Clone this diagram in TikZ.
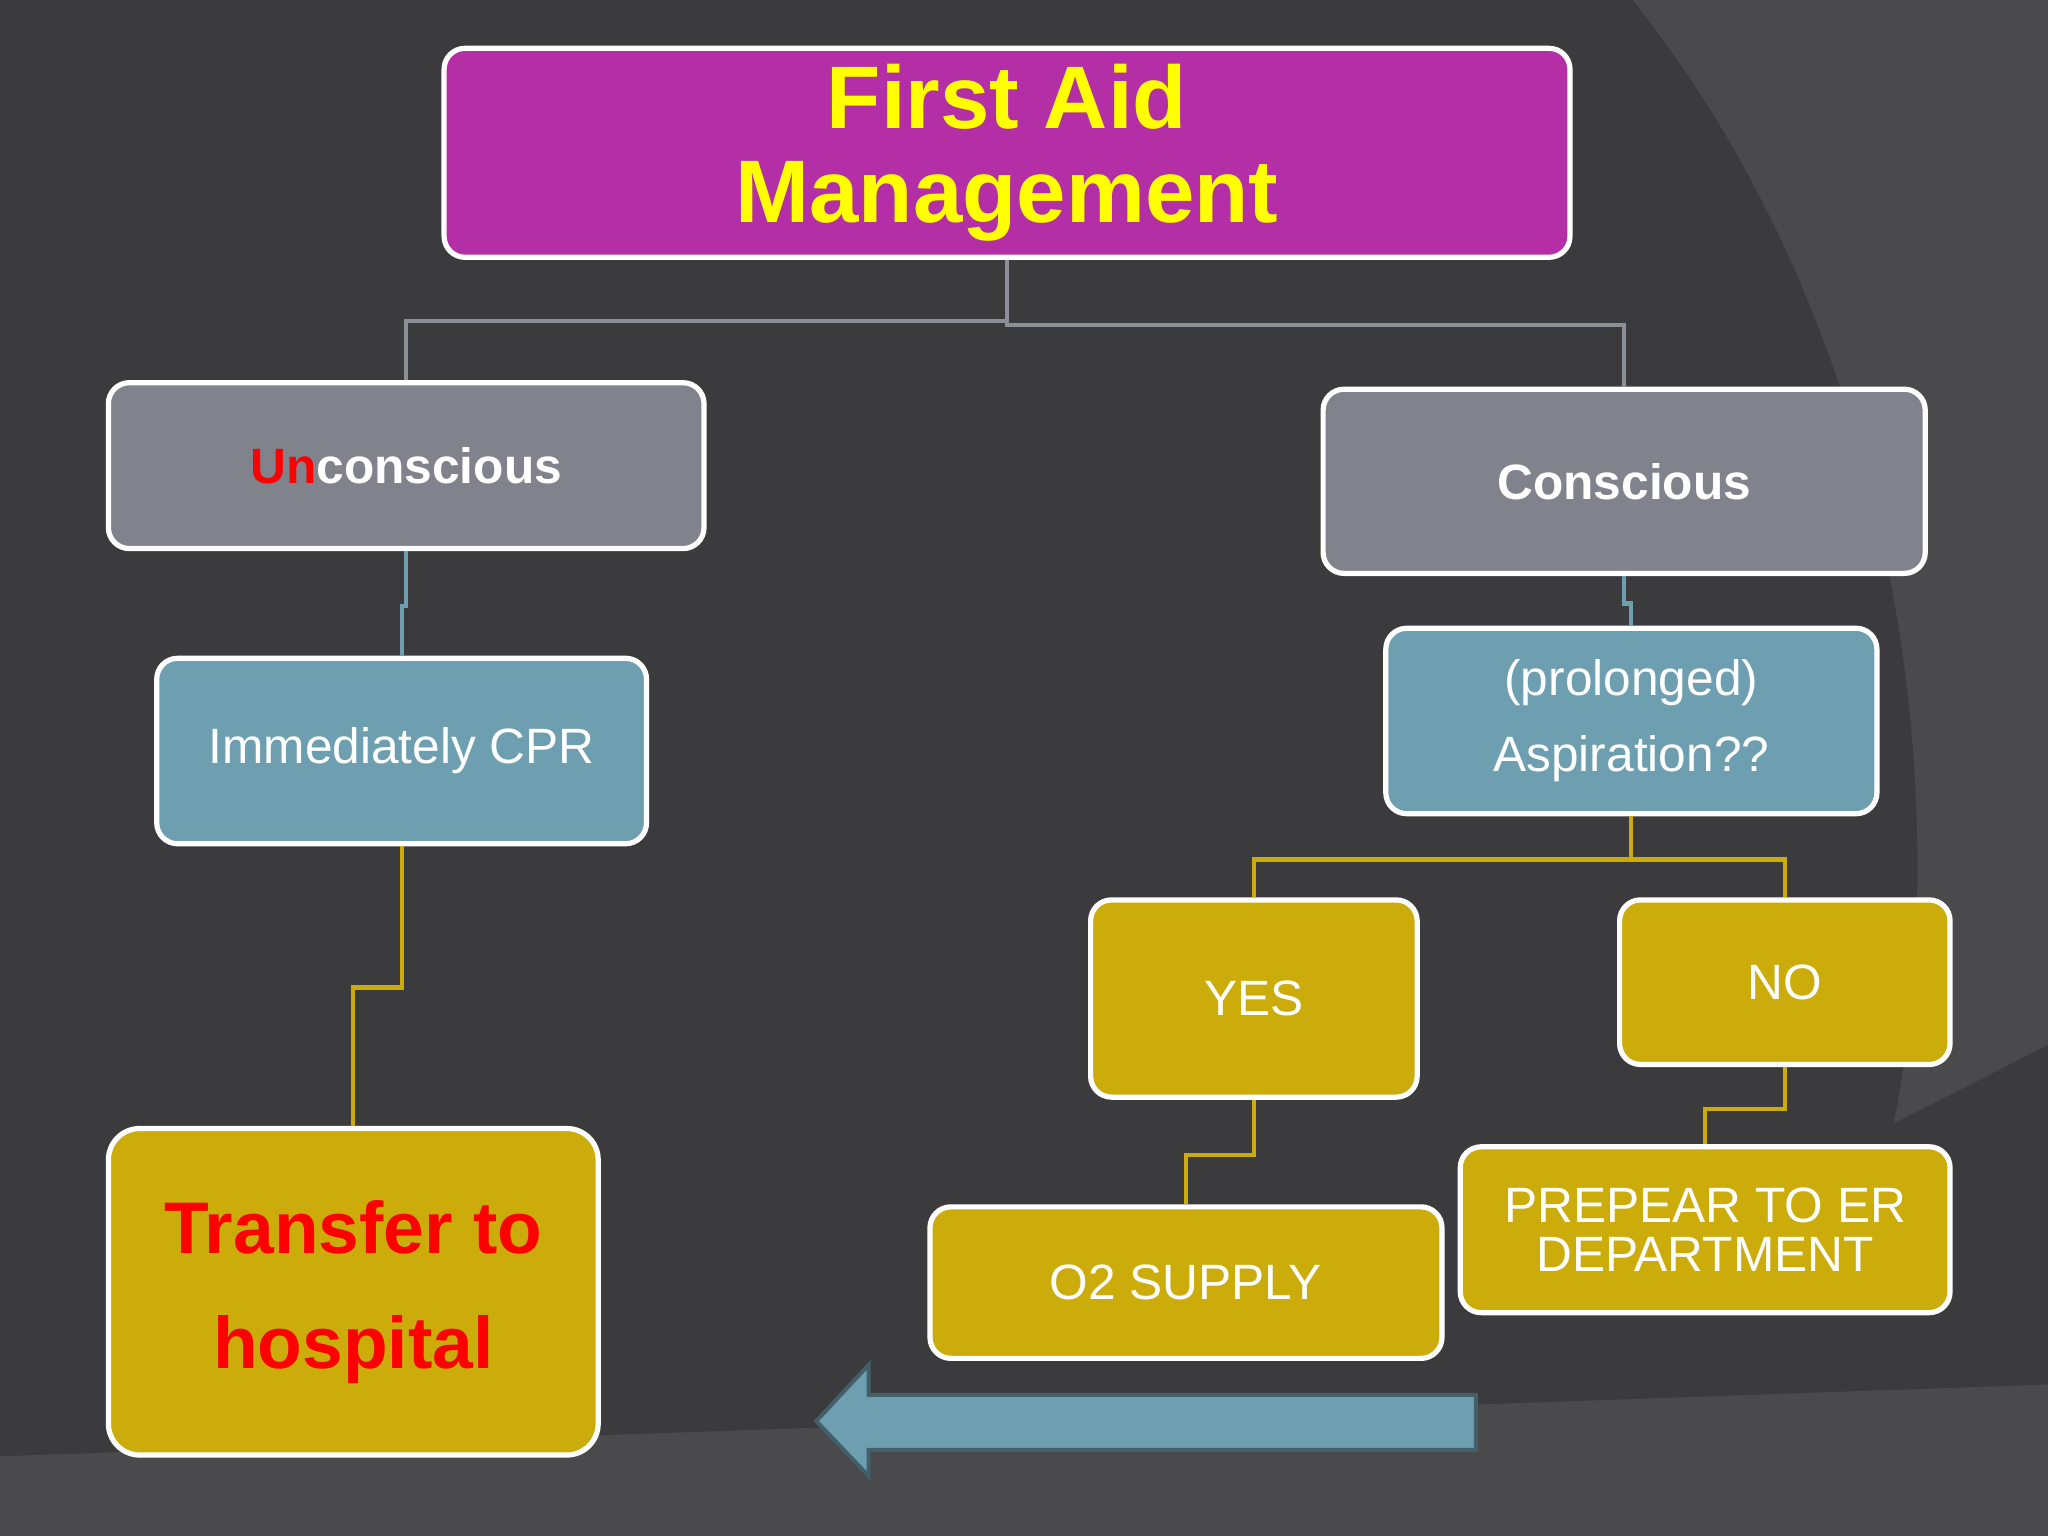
\documentclass[tikz,border=0pt]{standalone}
\usepackage{fontspec}
\setmainfont{Liberation Sans}
\begin{document}
\begin{tikzpicture}[x=0.5pt,y=-0.5pt,
 box/.style={draw=white,line width=2pt,rounded corners=8pt,anchor=north west,inner sep=0pt,align=center,text=white},
 gray/.style={box,fill=boxgray},
 blue/.style={box,fill=boxblue},
 gold/.style={box,fill=boxgold},
 ln/.style={line width=1.6pt}]
\definecolor{bg}{HTML}{3B3B3D}
\definecolor{bg2}{HTML}{4A4A4C}
\definecolor{boxgray}{HTML}{80838C}
\definecolor{boxblue}{HTML}{6E9FB0}
\definecolor{boxgold}{HTML}{CCAC0B}
\definecolor{mag}{HTML}{B42FA6}
\definecolor{ttl}{HTML}{FFFF00}
\fill[bg] (0,0) rectangle (1568,1176);
\fill[bg2] (1250,0) .. controls (1450,250) and (1500,600) .. (1450,860) -- (1568,800) -- (1568,0) -- cycle;
\fill[bg2] (0,1115) -- (1568,1060) -- (1568,1176) -- (0,1176) -- cycle;
\useasboundingbox (0,0) rectangle (1568,1176);
\node[box,fill=mag,minimum width=431pt,minimum height=80pt,text=ttl,font=\bfseries\fontsize{34}{36}\selectfont] (t) at (338,35) {First Aid\\Management};
\node[gray,minimum width=228pt,minimum height=63.5pt,font=\bfseries\fontsize{19}{22}\selectfont] (u) at (81,291) {\textcolor{red}{Un}conscious};
\node[gray,minimum width=230.5pt,minimum height=70.5pt,font=\bfseries\fontsize{19}{22}\selectfont] (c) at (1011,296) {Conscious};
\node[blue,minimum width=187.5pt,minimum height=71pt,font=\fontsize{19}{22}\selectfont] (cpr) at (118,502) {Immediately CPR};
\node[blue,minimum width=188pt,minimum height=71pt,font=\fontsize{19}{29}\selectfont] (asp) at (1059,479) {(prolonged)\\Aspiration??};
\node[gold,minimum width=125pt,minimum height=75.5pt,font=\fontsize{19}{22}\selectfont] (yes) at (833,687) {YES};
\node[gold,minimum width=126.5pt,minimum height=63pt,font=\fontsize{19}{22}\selectfont] (no) at (1238,687) {NO};
\node[gold,minimum width=196pt,minimum height=58pt,font=\fontsize{19}{22}\selectfont] (o2) at (710,922) {O2 SUPPLY};
\node[gold,minimum width=187.5pt,minimum height=63.5pt,font=\fontsize{19}{19}\selectfont] (pr) at (1116,876) {PREPEAR TO ER\\DEPARTMENT};
\node[gold,minimum width=187.5pt,minimum height=125pt,text=red,rounded corners=12pt,font=\bfseries\fontsize{28}{44}\selectfont] (tr) at (81,862) {Transfer to\\hospital};
\draw[ln,boxgray!90!white] (t.south) -- ++(0,47) -| (u.north);
\draw[ln,boxgray!90!white] (t.south) -- ++(0,50) -| (c.north);
\draw[ln,boxblue] (u.south) -- ++(0,42) -| (cpr.north);
\draw[ln,boxblue] (c.south) -- ++(0,21) -| (asp.north);
\draw[ln,boxgold] (cpr.south) -- ++(0,108) -| (tr.north);
\draw[ln,boxgold] (asp.south) -- ++(0,33) coordinate (j) -| (yes.north);
\draw[ln,boxgold] (j) -| (no.north);
\draw[ln,boxgold] (yes.south) -- ++(0,42) -| (o2.north);
\draw[ln,boxgold] (no.south) -- ++(0,32) -| (pr.north);
\node[inner sep=0pt] (ae) at (1130,1088) {};
\draw[fill=boxblue,draw=boxblue!60!black,line width=1.5pt] (1130,1068) -- (665,1068) -- (665,1045) -- (625,1088) -- (665,1130) -- (665,1110) -- (1130,1110) -- cycle;
\end{tikzpicture}
\end{document}
